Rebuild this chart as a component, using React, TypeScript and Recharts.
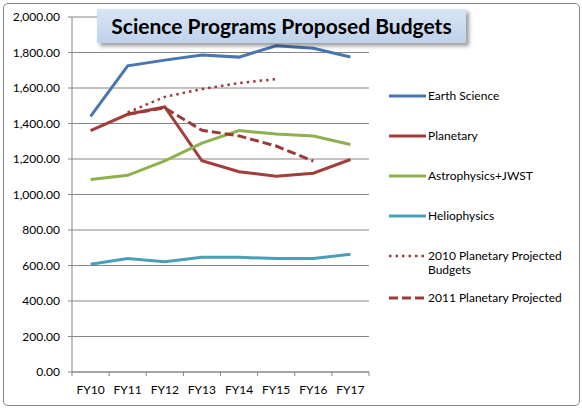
import { LineChart, Line, XAxis, YAxis, CartesianGrid } from 'recharts'

const categories = ['FY10', 'FY11', 'FY12', 'FY13', 'FY14', 'FY15', 'FY16', 'FY17']
const earthScience = [1440, 1725, 1757, 1786, 1774, 1838, 1824, 1775]
const planetary = [1360, 1452, 1493, 1190, 1128, 1103, 1120, 1197]
const astrophysics = [1085, 1108, 1190, 1290, 1360, 1341, 1330, 1282]
const heliophysics = [607, 640, 621, 646, 646, 639, 639, 663]
const projected2010 = [null, 1462, 1550, 1594, 1628, 1650, null, null]
const projected2011 = [null, 1452, 1488, 1362, 1330, 1273, 1188, null]
const yTicks = [0, 200, 400, 600, 800, 1000, 1200, 1400, 1600, 1800, 2000]

const SERIES = [
  { key: 'earth', name: 'Earth Science', color: '#4877b0', dash: undefined, width: 3 },
  { key: 'planetary', name: 'Planetary', color: '#a33d3a', dash: undefined, width: 3 },
  { key: 'astro', name: 'Astrophysics+JWST', color: '#8fb04e', dash: undefined, width: 3 },
  { key: 'helio', name: 'Heliophysics', color: '#4a9fb8', dash: undefined, width: 3 },
  { key: 'proj2010', name: '2010 Planetary Projected Budgets', color: '#9b3a38', dash: '2.5 4', width: 2.5 },
  { key: 'proj2011', name: '2011 Planetary Projected', color: '#9b3a38', dash: '9 4', width: 3 },
]

const data = categories.map((cat, i) => ({
  cat,
  earth: earthScience[i],
  planetary: planetary[i],
  astro: astrophysics[i],
  helio: heliophysics[i],
  proj2010: projected2010[i],
  proj2011: projected2011[i],
}))

const FONT = 'Lato, "Open Sans", sans-serif'
const GRID = '#868686'
const PLOT_W = 297
const HALF_BAND = PLOT_W / categories.length / 2

const fmt = (v: number) =>
  v.toLocaleString('en-US', { minimumFractionDigits: 2, maximumFractionDigits: 2 })

function CategoryTick(props: any) {
  const { x, y, payload, index } = props
  return (
    <g>
      <line x1={x - HALF_BAND} x2={x - HALF_BAND} y1={y - 10} y2={y - 6} stroke={GRID} />
      {index === categories.length - 1 && (
        <line x1={x + HALF_BAND} x2={x + HALF_BAND} y1={y - 10} y2={y - 6} stroke={GRID} />
      )}
      <text x={x} y={y + 12} textAnchor="middle" fill="#000" fontSize={12} fontFamily={FONT}>
        {payload.value}
      </text>
    </g>
  )
}

function LegendBox() {
  return (
    <div
      style={{
        position: 'absolute',
        left: 388,
        top: 89,
        width: 190,
        fontFamily: FONT,
        fontSize: 12,
        color: '#000',
      }}
    >
      {SERIES.map((s, i) => (
        <div
          key={s.key}
          style={{ display: 'flex', alignItems: 'flex-start', height: i === 4 ? 42 : 40 }}
        >
          <svg width={40} height={14} style={{ flex: 'none' }}>
            <line
              x1={1}
              x2={38}
              y1={7}
              y2={7}
              stroke={s.color}
              strokeWidth={s.width}
              strokeDasharray={s.dash}
            />
          </svg>
          <span style={{ width: 140, lineHeight: '14px' }}>{s.name}</span>
        </div>
      ))}
    </div>
  )
}

export default function App() {
  return (
    <div style={{ position: 'absolute', left: 0, top: 0, width: 582, height: 409, background: '#fff' }}>
      <div
        style={{
          position: 'absolute',
          left: 3,
          top: 3,
          width: 575,
          height: 401,
          border: `1px solid ${GRID}`,
          borderRadius: 5,
        }}
      />
      <LineChart
        width={582}
        height={409}
        data={data}
        margin={{ top: 17, right: 213, bottom: 12, left: 8 }}
      >
        <CartesianGrid vertical={false} stroke={GRID} />
        <XAxis
          dataKey="cat"
          stroke={GRID}
          tickLine={false}
          tickSize={4}
          tickMargin={6}
          height={25}
          interval={0}
          padding={{ left: HALF_BAND, right: HALF_BAND }}
          tick={<CategoryTick />}
        />
        <YAxis
          domain={[0, 2000]}
          ticks={yTicks}
          width={64}
          stroke={GRID}
          tickSize={4}
          tickMargin={8}
          tickFormatter={fmt}
          tick={{ fill: '#000', fontSize: 12, fontFamily: FONT }}
        />
        {SERIES.map((s) => (
          <Line
            key={s.key}
            dataKey={s.key}
            name={s.name}
            stroke={s.color}
            strokeWidth={s.width}
            strokeDasharray={s.dash}
            dot={false}
            activeDot={false}
            isAnimationActive={false}
          />
        ))}
      </LineChart>
      <LegendBox />
      <div
        style={{
          position: 'absolute',
          left: 97,
          top: 9,
          width: 369,
          height: 34,
          background: 'linear-gradient(#d8e5f5, #bfd2ea)',
          boxShadow: '3px 3px 4px rgba(0,0,0,0.4)',
          fontFamily: FONT,
          fontWeight: 700,
          fontSize: 21,
          lineHeight: '34px',
          textAlign: 'center',
          color: '#000',
        }}
      >
        Science Programs Proposed Budgets
      </div>
    </div>
  )
}
